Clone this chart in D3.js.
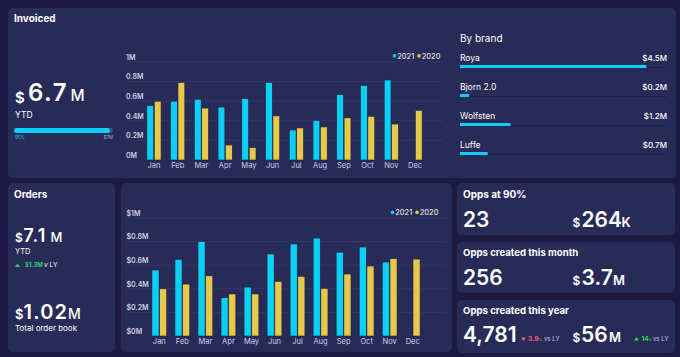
<!DOCTYPE html>
<html><head><meta charset="utf-8">
<script src="https://cdn.jsdelivr.net/npm/d3@7"></script>
<style>
html,body{margin:0;padding:0;background:#1c1a43;}
svg{display:block;font-family:Inter,"Open Sans",sans-serif;}
</style></head>
<body><svg id="c" width="680" height="357"></svg>
<script>
const months = ["Jan","Feb","Mar","Apr","May","Jun","Jul","Aug","Sep","Oct","Nov","Dec"];
const seriesNames = ["2021","2020"];
const invoiced2021 = [0.554,0.60,0.62,0.54,0.625,0.79,0.306,0.405,0.667,0.76,0.816,null];
const invoiced2020 = [0.60,0.79,0.53,0.153,0.126,0.45,0.327,0.337,0.43,0.446,0.367,0.507];
const orders2021 = [0.559,0.65,0.80,0.325,0.415,0.695,0.78,0.83,0.71,0.754,0.627,null];
const orders2020 = [0.40,0.44,0.51,0.356,0.356,0.463,0.506,0.404,0.525,0.593,0.655,0.652];
const yTicks = [0,0.2,0.4,0.6,0.8,1];
const invTickLabels = ["0M","0.2M","0.4M","0.6M","0.8M","1M"];
const ordTickLabels = ["$0M","$0.2M","$0.4M","$0.6M","$0.8M","$1M"];
const brands = ["Roya","Bjorn 2.0","Wolfsten","Luffe"];
const brandValues = [4.5,0.22,1.22,0.67];
const brandLabels = ["$4.5M","$0.2M","$1.2M","$0.7M"];

const C1 = "#0bcff5", C2 = "#e6c84b", PANEL = "#282b57", TXT = "#ffffff", AX = "#cfd0e6";
const svg = d3.select("#c");
svg.append("rect").attr("width",680).attr("height",357).attr("fill","#1c1a43");

// panels
const panels = [[8,8,668,170],[8,183,107,169],[121,183,331,169],[457,183,218,52],[457,242,218,51],[457,300,218,53]];
svg.selectAll("rect.panel").data(panels).enter().append("rect").attr("class","panel")
  .attr("x",d=>d[0]).attr("y",d=>d[1]).attr("width",d=>d[2]).attr("height",d=>d[3])
  .attr("rx",5).attr("fill",PANEL);

function txt(x,y,s,size,opts={}){
  const t = svg.append("text").attr("x",x).attr("y",y).text(s)
    .attr("font-size",size).attr("fill",opts.fill||TXT)
    .attr("font-weight",opts.w||400);
  if(opts.anchor) t.attr("text-anchor",opts.anchor);
  if(opts.ls) t.attr("letter-spacing",opts.ls);
  return t;
}

// bar chart function
function barChart(cfg){
  const g = svg.append("g");
  const x = d3.scaleBand().domain(months).range(cfg.xr);
  const y = d3.scaleLinear().domain([0,1]).range(cfg.yr);
  const bw = cfg.bw;
  const x1 = d3.scaleBand().domain(seriesNames).range([-bw, bw]);
  // grid
  g.selectAll("line.grid").data(yTicks.slice(1)).enter().append("line")
    .attr("x1",cfg.gx0).attr("x2",cfg.gx1).attr("y1",d=>y(d)).attr("y2",d=>y(d))
    .attr("stroke","#363a68").attr("stroke-width",0.8);
  g.selectAll("text.yl").data(yTicks).enter().append("text")
    .attr("x",cfg.lx).attr("y",d=>y(d)-2.2).text((d,i)=>cfg.labels[i])
    .attr("font-size",7).attr("font-weight",600).attr("fill",AX);
  const rows = months.map((m,i)=>({m, v:[cfg.s1[i],cfg.s2[i]]}));
  const grp = g.selectAll("g.m").data(rows).enter().append("g")
    .attr("transform",d=>`translate(${x(d.m)+x.bandwidth()/2},0)`);
  grp.selectAll("rect").data(d=>d.v.map((v,k)=>({k,v}))).enter()
    .filter(d=>d.v!=null).append("rect")
    .attr("x",d=>x1(seriesNames[d.k])+0.3).attr("width",x1.bandwidth()-0.6)
    .attr("y",d=>y(d.v)).attr("height",d=>y(0)-y(d.v))
    .attr("fill",d=>d.k===0?C1:C2).attr("stroke","#1f2149").attr("stroke-width",0.6);
  // x axis labels via d3 axis
  const ax = g.append("g").attr("transform",`translate(0,${cfg.yr[0]})`)
    .call(d3.axisBottom(x).tickSize(0).tickPadding(cfg.tp));
  ax.select(".domain").remove();
  ax.selectAll("text").attr("font-size",7.5).attr("fill",AX).attr("font-family","Inter,sans-serif");
  // legend
  const lg = g.append("g");
  seriesNames.forEach((s,k)=>{
    lg.append("circle").attr("cx",cfg.legX+k*24.5).attr("cy",cfg.legY-2.6).attr("r",1.8).attr("fill",k===0?C1:C2);
    lg.append("text").attr("x",cfg.legX+2.8+k*24.5).attr("y",cfg.legY).text(s)
      .attr("font-size",7.5).attr("fill",TXT);
  });
}

barChart({xr:[142.1,426.9], yr:[160,62], bw:7.4, gx0:126, gx1:443, lx:126, labels:invTickLabels,
  s1:invoiced2021, s2:invoiced2020, tp:3, legX:394.5, legY:58.5});
barChart({xr:[147.8,424.2], yr:[336,218], bw:7.7, gx0:126, gx1:446, lx:126.5, labels:ordTickLabels,
  s1:orders2021, s2:orders2020, tp:3, legX:392.5, legY:215});

// Invoiced panel
txt(14,21.5,"Invoiced",10,{w:700});
txt(15,103,"$",15,{w:600});
txt(28,100.5,"6.7",24,{w:600,ls:1.5});
txt(70.5,100.5,"M",15.5,{w:500});
txt(15,118,"YTD",8.5);
svg.append("rect").attr("x",14).attr("y",128).attr("width",99).attr("height",5).attr("rx",2.5).attr("fill","#4b4e7c");
svg.append("rect").attr("x",14).attr("y",128).attr("width",96).attr("height",5).attr("rx",2.5).attr("fill",C1);
txt(15,138.5,"95%",4.5,{fill:C1});
txt(113,138.5,"$7M",4.5,{fill:"#a9abc8",anchor:"end"});

// By brand
txt(460,42,"By brand",10);
const bx = d3.scaleLinear().domain([0,5]).range([460,667]);
brands.forEach((b,i)=>{
  const by = 61 + i*29;
  txt(460,by,b,8.5);
  txt(667,by,brandLabels[i],8,{anchor:"end",w:500});
  svg.append("rect").attr("x",460).attr("y",by+6).attr("width",bx(5)-bx(0)).attr("height",1).attr("fill","#1f2149");
  svg.append("rect").attr("x",bx(0)).attr("y",by+4).attr("width",bx(brandValues[i])-bx(0)).attr("height",3).attr("fill",C1);
});

// Orders panel
txt(14,197.5,"Orders",10,{w:700});
txt(15,242,"$",12,{w:600});
txt(23.5,242,"7.1",18,{w:600,ls:1});
txt(50.5,242,"M",13,{w:500});
txt(15,254,"YTD",7.5);
svg.append("path").attr("d","M15,267 L17.5,263.5 L20,267 Z").attr("fill","#2bd36a");
txt(25,267,"$1.3M",6,{fill:"#2bd36a",w:700});
txt(44,267,"v LY",6.5);
txt(15,319,"$",13,{w:600});
txt(23.5,319,"1.02",20,{w:600,ls:1.2});
txt(68,319,"M",14,{w:500});
txt(15,331,"Total order book",8);

// Opps panels
txt(463,197.5,"Opps at 90%",10,{w:700});
txt(463,227,"23",21,{w:600});
txt(572.5,227,"$",12,{w:600});
txt(581.5,227,"264",21,{w:600});
txt(621.5,227,"K",13,{w:600});

txt(463,255.5,"Opps created this month",9.6,{w:700});
txt(463,284.5,"256",21,{w:600});
txt(572.5,284.5,"$",12,{w:600});
txt(581.5,284.5,"3.7",21,{w:600});
txt(613,284.5,"M",13,{w:600});

txt(463,313.5,"Opps created this year",9.6,{w:700});
txt(463,342,"4,781",21,{w:600});
svg.append("path").attr("d","M521,337.5 L526,337.5 L523.5,341 Z").attr("fill","#f0607a");
txt(528,341,"3.9",6.5,{fill:"#f0607a",w:700});
txt(538,341,"%",4,{fill:"#f0607a"});
txt(544,341,"vs LY",6,{fill:"#c8c9e0"});
txt(572.5,342,"$",12,{w:600});
txt(581,342,"56",21,{w:600});
txt(609,342,"M",13,{w:600});
svg.append("path").attr("d","M634,340.5 L639,340.5 L636.5,337 Z").attr("fill","#2bd36a");
txt(641.5,341,"14",6.5,{fill:"#2bd36a",w:700});
txt(648,341,"%",4,{fill:"#2bd36a"});
txt(653,341,"vs LY",6,{fill:"#c8c9e0"});
</script></body></html>
